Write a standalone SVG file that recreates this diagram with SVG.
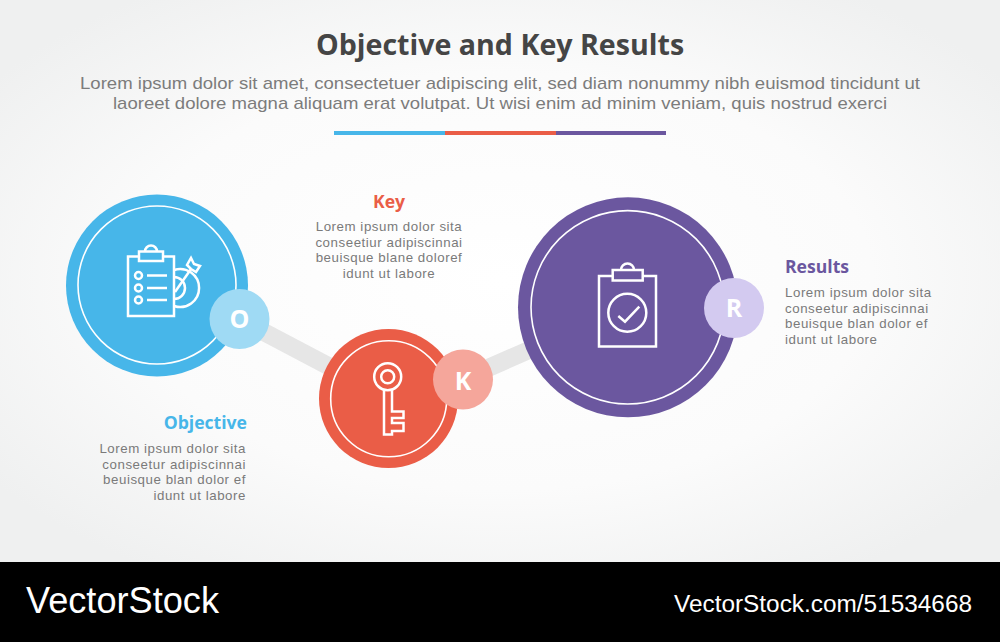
<svg xmlns="http://www.w3.org/2000/svg" width="1000" height="642" viewBox="0 0 1000 642">
<defs>
<radialGradient id="bg" cx="50%" cy="50%" r="62%"><stop offset="0" stop-color="#ffffff"/><stop offset="0.6" stop-color="#fbfbfb"/><stop offset="1" stop-color="#eff0f0"/></radialGradient>
</defs>
<style>
.t{font-family:"Open Sans","Liberation Sans",sans-serif}
.title{font-size:28.600px;font-weight:700;fill:#454545;text-anchor:middle}
.sub{font-family:"Liberation Sans",sans-serif;font-size:17px;fill:#7c7c7c;text-anchor:middle}
.b{font-family:"Liberation Sans",sans-serif;font-size:13.300px;letter-spacing:.55px;fill:#7a7a7a}
.h{font-size:17.600px;font-weight:700}
.e{text-anchor:end}.m{text-anchor:middle}
.l{font-size:25px;font-weight:700;fill:#fff;text-anchor:middle}
.ic{fill:none;stroke:#fff;stroke-width:2.500}
.ring{fill:none;stroke:#fff;stroke-width:1.600}
.wm{font-family:"Liberation Sans",sans-serif;fill:#fff}
</style>
<rect width="1000" height="562" fill="url(#bg)"/>
<g id="header">
<text class="t title" x="500" y="55">Objective and Key Results</text>
<text class="sub" x="500" y="89" textLength="840" lengthAdjust="spacingAndGlyphs">Lorem ipsum dolor sit amet, consectetuer adipiscing elit, sed diam nonummy nibh euismod tincidunt ut</text>
<text class="sub" x="500" y="109" textLength="774" lengthAdjust="spacingAndGlyphs">laoreet dolore magna aliquam erat volutpat. Ut wisi enim ad minim veniam, quis nostrud exerci</text>
<rect x="334" y="131" width="111" height="4" fill="#47b6e9"/>
<rect x="445" y="131" width="111" height="4" fill="#ea5d47"/>
<rect x="556" y="131" width="110" height="4" fill="#6b579f"/>
</g>
<g id="connectors" fill="none" stroke="#e6e6e6" stroke-width="18">
<path d="M239 319L389 398"/>
<path d="M463 379L627 307"/>
</g>
<g id="node-objective">
<circle cx="157" cy="285.500" r="91" fill="#47b6e9"/>
<circle class="ring" cx="157" cy="285" r="79"/>
<g class="ic">
<path d="M163 256.500H174V316H128V256.500H139"/>
<rect x="139" y="251.500" width="24" height="9.500"/>
<path d="M145 251.500a6 6 0 0 1 12 0"/>
<circle cx="138.500" cy="275.500" r="3.500"/><circle cx="138.500" cy="288" r="3.500"/><circle cx="138.500" cy="300" r="3.500"/>
<path d="M147 275.500H167M147 288H167M147 300H167"/>
</g>
<g class="ic" stroke-width="2">
<path d="M174 270a19 19 0 1 1 0 36M174 277a11 11 0 1 1 0 22"/>
<path d="M175 292L191 269"/>
<path d="M191 269L187 265L191 258L194 264L200 266L196 272Z"/>
</g>
<circle cx="239.500" cy="319" r="30" fill="#9fdaf4"/>
<text class="t l" x="239.500" y="328">O</text>
<text class="t h e" x="247" y="429" fill="#47b6e9">Objective</text>
<text class="b e"><tspan x="246" y="453">Lorem ipsum dolor sita</tspan><tspan x="246" y="468.500">conseetur adipiscinnai</tspan><tspan x="246" y="484">beuisque blan dolor ef</tspan><tspan x="246" y="499.500">idunt ut labore</tspan></text>
</g>
<g id="node-key">
<circle cx="388.500" cy="398.500" r="69.500" fill="#ea5d47"/>
<circle class="ring" cx="388.700" cy="398.700" r="58"/>
<g class="ic">
<circle cx="387.700" cy="376.700" r="13.500"/><circle cx="387.700" cy="376.700" r="6.500"/>
<path d="M384 390V434.500H392V431H403.500V423H392V418H403.500V411.500H392V390"/>
</g>
<circle cx="463" cy="379.500" r="30" fill="#f5a69b"/>
<text class="t l" x="463" y="390">K</text>
<text class="t h m" x="389" y="208" fill="#ea5d47">Key</text>
<text class="b m"><tspan x="389" y="231">Lorem ipsum dolor sita</tspan><tspan x="389" y="246.500">conseetiur adipiscinnai</tspan><tspan x="389" y="262">beuisque blane doloref</tspan><tspan x="389" y="277.500">idunt ut labore</tspan></text>
</g>
<g id="node-results">
<circle cx="628" cy="307.300" r="110" fill="#6b579f"/>
<circle class="ring" cx="627.700" cy="307.300" r="96.700"/>
<g class="ic">
<path d="M642.700 276H656V346.500H599V276H612.700"/>
<rect x="612.700" y="270" width="30" height="10.500"/>
<path d="M621 270a6.500 6.500 0 0 1 13 0"/>
<circle cx="627.300" cy="312.700" r="19"/>
<path d="M618.300 316L625 321.700L639.300 306.700"/>
</g>
<circle cx="734" cy="308" r="30" fill="#d3caf0"/>
<text class="t l" x="734" y="316.500">R</text>
<text class="t h" x="785" y="273" fill="#6b579f">Results</text>
<text class="b"><tspan x="785" y="297">Lorem ipsum dolor sita</tspan><tspan x="785" y="312.500">conseetur adipiscinnai</tspan><tspan x="785" y="328">beuisque blan dolor ef</tspan><tspan x="785" y="343.500">idunt ut labore</tspan></text>
</g>
<g id="watermark">
<rect y="562" width="1000" height="80" fill="#000"/>
<text class="wm" x="26" y="613" font-size="36" textLength="193" lengthAdjust="spacingAndGlyphs">VectorStock</text>
<text class="wm" x="674" y="612" font-size="23" textLength="298" lengthAdjust="spacingAndGlyphs">VectorStock.com/51534668</text>
</g>
</svg>
